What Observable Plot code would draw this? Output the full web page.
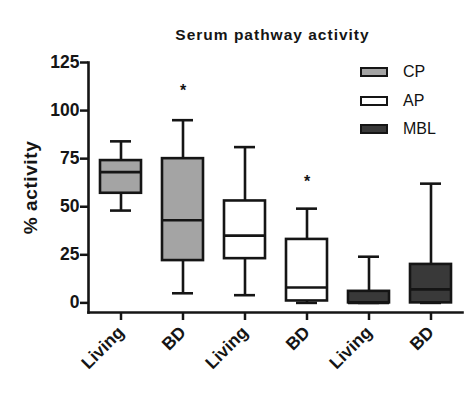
<!DOCTYPE html>
<html><head><meta charset="utf-8">
<script src="https://cdn.jsdelivr.net/npm/d3@7"></script>
<script src="https://cdn.jsdelivr.net/npm/@observablehq/plot@0.6"></script>
<style>
body{margin:0;background:#fff;font-family:"Liberation Sans",Arial,sans-serif;}
#wrap{position:relative;width:474px;height:393px;overflow:hidden;}
#legend{position:absolute;left:360px;top:58px;font-size:16px;color:#111;}
.item{display:flex;align-items:center;height:28.5px;}
.sw{width:24px;height:6px;border:2.3px solid #151515;margin-right:15px;}
</style></head><body><div id="wrap"><div id="legend"></div></div>
<script>
// categories
const labels = ["Living", "BD", "Living", "BD", "Living", "BD"];
const pathway = ["CP", "CP", "AP", "AP", "MBL", "MBL"];
// box statistics (% activity)
const whiskerLow  = [48, 5, 4, 0, 0, 0];
const q1          = [57, 22, 23, 1, 0, 0];
const median      = [68, 43, 35, 8, 0, 7];
const q3          = [74, 75, 53, 33, 6, 20];
const whiskerHigh = [84, 95, 81, 49, 24, 62];
// significance asterisk position (value units), null = none
const starAt = [null, 110, null, 63, null, null];
const yTicks = [0, 25, 50, 75, 100, 125];
const pathways = ["CP", "AP", "MBL"];
const fills = {CP: "#a4a4a4", AP: "#ffffff", MBL: "#393939"};

const data = labels.map((l, i) => ({i, label: l, pathway: pathway[i], lo: whiskerLow[i], q1: q1[i], med: median[i], q3: q3[i], hi: whiskerHigh[i], star: starAt[i]}));
const ink = "#151515";
const font = "'Liberation Sans', Arial, sans-serif";

const chart = Plot.plot({
  width: 474, height: 393,
  marginTop: 62, marginLeft: 88, marginRight: 12, marginBottom: 81,
  style: {fontFamily: font, fontWeight: "bold", color: ink, background: "white", overflow: "visible"},
  x: {domain: d3.range(6), paddingInner: 0.34, paddingOuter: 0.17},
  y: {domain: [-5, 125]},
  color: {domain: pathways, range: pathways.map(p => fills[p])},
  marks: [
    Plot.ruleX(data, {x: "i", y1: "lo", y2: "hi", stroke: ink, strokeWidth: 2.6}),
    Plot.tickY(data, {x: "i", y: "lo", stroke: ink, strokeWidth: 2.6, insetLeft: 10, insetRight: 10}),
    Plot.tickY(data, {x: "i", y: "hi", stroke: ink, strokeWidth: 2.6, insetLeft: 10, insetRight: 10}),
    Plot.barY(data, {x: "i", y1: "q1", y2: "q3", fill: "pathway", stroke: ink, strokeWidth: 2.6}),
    Plot.tickY(data, {x: "i", y: "med", stroke: ink, strokeWidth: 2.6}),
    Plot.text(data.filter(d => d.star != null), {x: "i", y: "star", text: () => "*", fontSize: 16, fontWeight: "bold", fill: ink}),
    Plot.axisY({ticks: yTicks, tickSize: 8, tickPadding: 1, strokeWidth: 2.5, fontSize: 17.5, label: null}),
    Plot.axisX({tickSize: 8, tickPadding: 9, strokeWidth: 2.5, fontSize: 17.5, tickRotate: -45, tickFormat: i => labels[i], label: null}),
    Plot.frame({anchor: "left", stroke: ink, strokeWidth: 2.6}),
    Plot.frame({anchor: "bottom", stroke: ink, strokeWidth: 2.6}),
    Plot.text(["% activity"], {frameAnchor: "left", textAnchor: "middle", dx: -58, rotate: -90, fontSize: 19, fontWeight: "bold", fill: ink, style: "letter-spacing:0.6px"}),
    Plot.text(["Serum pathway activity"], {frameAnchor: "top", dy: -34, dx: -3, fontSize: 15.5, fontWeight: "bold", fill: ink})
  ]
});
document.getElementById("wrap").prepend(chart);
d3.select(chart).selectAll("text").filter(function() { return this.textContent === "Serum pathway activity"; }).style("letter-spacing", "1px");
d3.select(chart).selectAll("text").filter(function() { return this.textContent === "% activity"; }).style("letter-spacing", "0.6px");

const leg = d3.select("#legend");
pathways.forEach(p => {
  const it = leg.append("div").attr("class", "item");
  it.append("div").attr("class", "sw").style("background", fills[p]);
  it.append("span").text(p);
});
</script></body></html>
